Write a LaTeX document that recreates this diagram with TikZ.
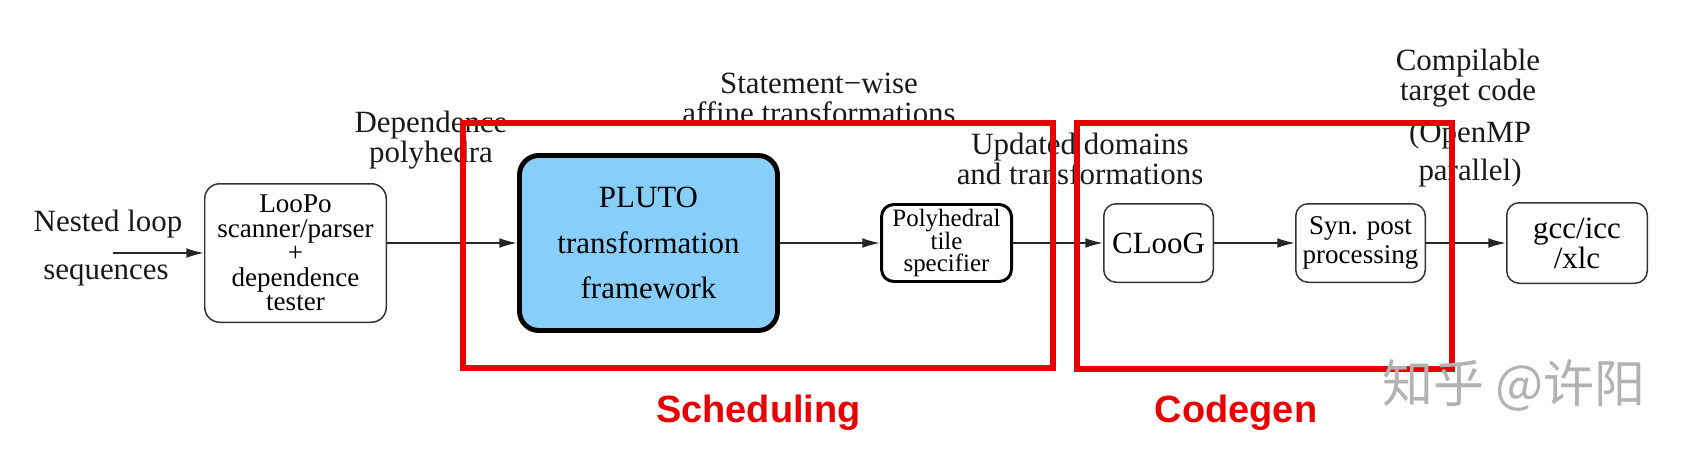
\documentclass[tikz,border=0pt]{standalone}
\usepackage{fontspec}
\setmainfont{Liberation Serif}
\newfontfamily\headfont{Liberation Sans}
\newfontfamily\cjk{Noto Sans CJK SC}
\usepackage{xcolor}
\usepackage{tikz}
\usetikzlibrary{arrows.meta, positioning}

\definecolor{plutoblue}{RGB}{135,206,250}
\definecolor{markred}{RGB}{232,0,0}
\definecolor{wmgray}{RGB}{178,178,178}

\begin{document}
\begin{tikzpicture}[
    flow/.style={-{Latex[length=10pt,width=5.5pt]}, line width=0.85pt, black!85},
    stage/.style={draw=black!80, line width=0.85pt, rounded corners=7pt,
      align=center, inner sep=0pt},
    note/.style={align=center, inner sep=0pt, text=black!90,
      font=\fontsize{17.6}{17}\selectfont},
    region/.style={draw=markred, line width=3.4pt},
    tag/.style={text=markred, font=\headfont\bfseries\fontsize{21.6}{24}\selectfont}
  ]
  \useasboundingbox (0,0) rectangle (33.8,-9.06);

  \node[note] (nest) at (2.16,-4.48) {Nested loop};
  \node[note] (seq) at (2.12,-5.50) {sequences};
  \coordinate (src) at (2.26,-5.06);

  \node[stage, minimum width=3.63cm, minimum height=2.77cm, rounded corners=8.5pt,
    font=\fontsize{15.4}{14}\selectfont] (loopo) at (5.91,-5.06)
    {LooPo\\scanner/parser\\+\\dependence\\tester};
  \node[stage, draw=black, line width=2.8pt, fill=plutoblue, rounded corners=11pt,
    minimum width=5.16cm, minimum height=3.5cm,
    font=\fontsize{17.6}{26}\selectfont] (pluto) at (12.97,-4.86)
    {PLUTO\\transformation\\framework};
  \node[stage, draw=black, line width=1.7pt, minimum width=2.6cm, minimum height=1.54cm,
    font=\fontsize{14.2}{13}\selectfont] (tile) at (18.93,-4.86)
    {Polyhedral\\tile\\specifier};
  \node[stage, minimum width=2.19cm, minimum height=1.57cm,
    font=\fontsize{17.6}{17}\selectfont] (cloog) at (23.17,-4.86) {CLooG};
  \node[stage, minimum width=2.59cm, minimum height=1.57cm,
    font=\fontsize{15.4}{16}\selectfont] (syn) at (27.21,-4.86)
    {Syn. post\\processing};
  \node[stage, minimum width=2.81cm, minimum height=1.61cm,
    font=\fontsize{17.6}{14}\selectfont] (gcc) at (31.54,-4.86) {gcc/icc\\/xlc};

  \draw[flow] (src) -- (loopo);
  \draw[flow] (loopo.east |- pluto) -- (pluto);
  \draw[flow] (pluto) -- (tile);
  \draw[flow] (tile) -- (cloog);
  \draw[flow] (cloog) -- (syn);
  \draw[flow] (syn) -- (gcc);

  \node[note] (dep) at (8.62,-2.8) {Dependence\\polyhedra};
  \node[note] (stmt) at (16.38,-1.96) {Statement−wise\\affine transformations};
  \node[note, font=\fontsize{17.6}{16}\selectfont] (upd) at (21.6,-3.18)
    {Updated domains\\and transformations};
  \node[note] (target) at (29.36,-1.56) {Compilable\\target code};
  \node[note, font=\fontsize{17.6}{21.6}\selectfont] (omp) at (29.4,-3.08)
    {(OpenMP\\parallel)};

  \draw[region] (9.26,-2.46) rectangle (21.06,-7.36);
  \draw[region] (21.54,-2.46) rectangle (29.04,-7.38);
  \node[tag] (sched) at (15.17,-8.26) {Scheduling};
  \node[tag] (cgen) at (24.72,-8.26) {Codegen};

  \node[text=wmgray, inner sep=0pt, font=\cjk\fontsize{29}{32}\selectfont] (wm)
    at (30.28,-7.7) {知乎 @许阳};
\end{tikzpicture}
\end{document}
